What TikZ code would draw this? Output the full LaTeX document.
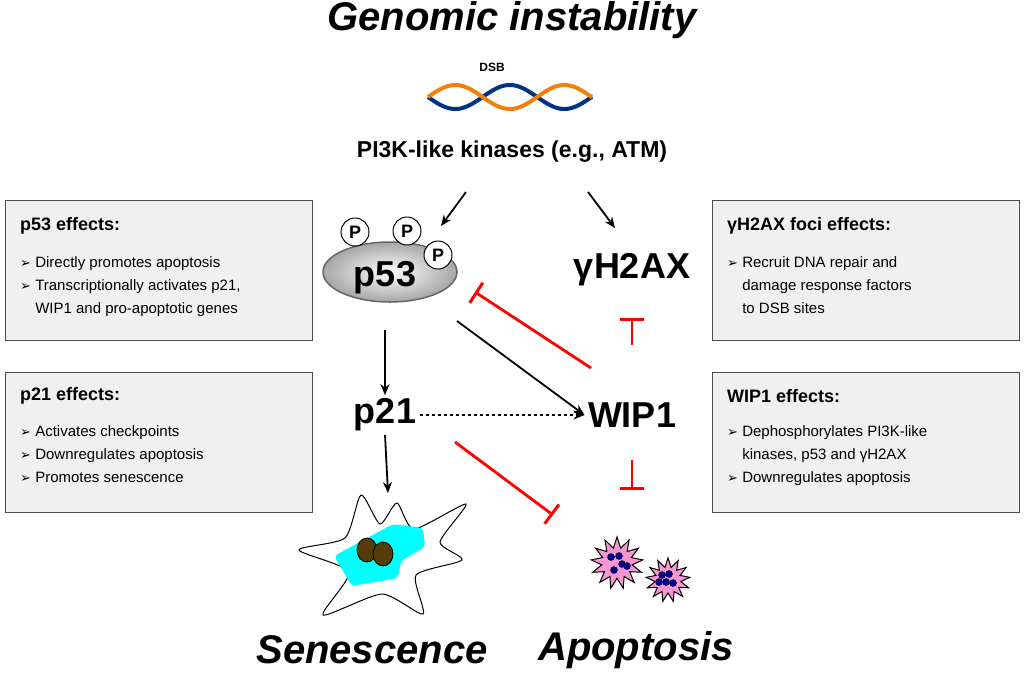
\documentclass[tikz,border=0pt]{standalone}
\usepackage{fontspec}
\setmainfont{Liberation Sans}
\newfontfamily\arrfont{DejaVu Sans}
\usetikzlibrary{shapes.geometric,arrows.meta}
\definecolor{cellcyan}{RGB}{0,255,255}
\definecolor{nucl}{RGB}{85,60,10}
\definecolor{apopink}{RGB}{245,150,210}
\tikzset{
  effbox/.style={draw=black!70,fill=black!6,line width=1pt},
  efftext/.style={anchor=north west,align=left,font=\fontsize{15}{23}\selectfont,inner sep=0pt},
  effhead/.style={anchor=west,font=\fontsize{18}{20}\selectfont\bfseries,inner sep=0pt},
  prot/.style={font=\fontsize{36}{36}\selectfont\bfseries},
  act/.style={-{Stealth[length=11pt,width=9pt]},line width=1.8pt},
  inh/.style={-{Bar[width=24pt,line width=3pt]},red,line width=2.8pt},
  pcirc/.style={circle,draw,fill=white,line width=1pt,minimum size=28pt,inner sep=0pt,font=\fontsize{18}{18}\selectfont\bfseries},
  apo/.style={star,star points=13,star point ratio=1.7,draw,line width=1pt,fill=apopink,minimum size=52pt}
}
\newcommand{\bul}{{\arrfont\fontsize{13}{13}\selectfont ➢}\ }
\begin{document}
\begin{tikzpicture}[x=1pt,y=-1pt]
  \useasboundingbox (0,0) rectangle (1024,673);

  % titles
  \node[font=\fontsize{40}{40}\selectfont\bfseries\itshape] (title) at (512,20) {Genomic instability};
  \node[font=\fontsize{40}{40}\selectfont\bfseries\itshape] (sen) at (372,650) {Senescence};
  \node[font=\fontsize{40}{40}\selectfont\bfseries\itshape] (apop) at (636,650) {Apoptosis};

  % DNA
  \draw[blue!40!black!80!cyan,line width=4pt,domain=428:592,samples=80] plot (\x,{97+12*sin((\x-428)*3.3)});
  \draw[orange!80!brown,line width=4pt,domain=428:592,samples=80] plot (\x,{97-12*sin((\x-428)*3.3)});
  \node[font=\fontsize{12}{12}\selectfont\bfseries] (dsb) at (492,67) {DSB};

  \node[font=\fontsize{23}{23}\selectfont\bfseries] (pik) at (512,152) {PI3K-like kinases (e.g., ATM)};

  % proteins
  \node[ellipse,draw=black!60,line width=1.5pt,inner color=white,outer color=black!35,
        minimum width=134pt,minimum height=60pt] (p53e) at (390,272) {};
  \node[prot] (p53) at (385,278) {p53};
  \node[pcirc] (pa) at (355,232) {P};
  \node[pcirc] (pb) at (407,231) {P};
  \node[pcirc] (pc) at (438,255) {P};
  \node[prot] (gh) at (632,270) {γH2AX};
  \node[prot] (p21) at (385,415) {p21};
  \node[prot] (wip) at (632,415) {WIP1};

  \coordinate (k1) at (466,192);
  \coordinate (k2) at (588,192);
  \draw[act] (k1) -- (441,226);
  \draw[act] (k2) -- (615,228);
  \draw[act] (385,330) -- (p21.north);
  \draw[act] (p21.south) -- (388,493);
  \draw[act] (457,321) -- (wip.west);
  \draw[act,dashed,line width=1.5pt] (p21.east) -- (wip.west);

  \draw[inh] (591,368) -- (475,292);
  \draw[inh] (632,345) -- (632,318);
  \draw[inh] (632,460) -- (632,490);
  \draw[inh] (455,442) -- (553,515);

  % effect boxes
  \draw[effbox] (5,200) rectangle (312,340);
  \node[effhead] (h1) at (20,226) {p53 effects:};
  \node[efftext] (t1) at (20,256) {\bul Directly promotes apoptosis\\ \bul Transcriptionally activates p21,\\ \hphantom{\bul}WIP1 and pro-apoptotic genes};
  \draw[effbox] (5,372) rectangle (312,512);
  \node[effhead] (h2) at (20,396) {p21 effects:};
  \node[efftext] (t2) at (20,425) {\bul Activates checkpoints\\ \bul Downregulates apoptosis\\ \bul Promotes senescence};
  \draw[effbox] (712,200) rectangle (1019,340);
  \node[effhead] (h3) at (727,226) {γH2AX foci effects:};
  \node[efftext] (t3) at (727,256) {\bul Recruit DNA repair and\\ \hphantom{\bul}damage response factors\\ \hphantom{\bul}to DSB sites};
  \draw[effbox] (712,372) rectangle (1019,512);
  \node[effhead] (h4) at (727,396) {WIP1 effects:};
  \node[efftext] (t4) at (727,425) {\bul Dephosphorylates PI3K-like\\ \hphantom{\bul}kinases, p53 and γH2AX\\ \bul Downregulates apoptosis};

  % senescent cell
  \draw[line width=1pt,fill=white] plot[smooth cycle,tension=0.4] coordinates
    {(299,550) (345,538) (361,495) (380,524) (397,503) (414,529) (466,504) (440,542)
     (462,560) (416,575) (423,614) (382,594) (323,615) (349,572)};
  \fill[cellcyan,rounded corners=4pt] (334,556) -- (393,524) -- (423,528) -- (425,547) -- (401,561) -- (398,578) -- (352,586) -- cycle;
  \draw[fill=nucl,line width=0.8pt] (367,550) ellipse (10pt and 12pt);
  \draw[fill=nucl,line width=0.8pt] (383,554) ellipse (10pt and 12pt);

  % apoptotic bodies
  \node[apo] (ap1) at (617,563) {};
  \node[apo,minimum size=44pt] (ap2) at (668,580) {};
  \foreach \x/\y in {611/557,619/556,622/564,614/570,627/566,662/575,669/574,666/582,673/583,659/582}
    \draw[fill=blue!60!black] (\x,\y) circle (3.5pt);
\end{tikzpicture}
\end{document}
